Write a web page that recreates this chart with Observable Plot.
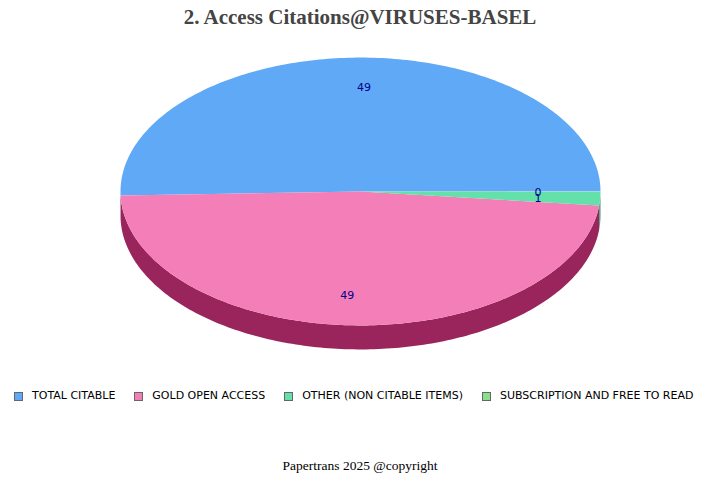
<!DOCTYPE html>
<html><head><meta charset="utf-8">
<script src="https://cdn.jsdelivr.net/npm/d3@7"></script>
<script src="https://cdn.jsdelivr.net/npm/@observablehq/plot@0.6"></script>
<style>
html,body{margin:0;padding:0;background:#fff;width:720px;height:480px;overflow:hidden}
#title{height:36px;text-align:center;font:bold 21px/35px "Liberation Serif",serif;color:#444}
#legend{display:flex;height:16px;margin-top:18px;padding-left:14px;font:11px/16px "DejaVu Sans",sans-serif;color:#000;white-space:nowrap;align-items:center}
#legend .s{width:7px;height:7px;border:1px solid #666;margin-right:9px;flex:none}
#legend .t{margin-right:19px}
#foot{margin-top:54px;text-align:center;font:13.5px/16px "Liberation Serif",serif;color:#000}
svg{display:block}
</style></head><body>
<div id="title">2. Access Citations@VIRUSES-BASEL</div>
<div id="chart"></div>
<div id="legend"></div>
<div id="foot">Papertrans 2025 @copyright</div>
<script>
const categories = ["TOTAL CITABLE","GOLD OPEN ACCESS","OTHER (NON CITABLE ITEMS)","SUBSCRIPTION AND FREE TO READ"];
const labels = [49,49,1,0];
// share of the drawn ellipse, in degrees
const sweeps = [181.7,172.3,5.9,0.1];
const colors = ["#60a9f6","#f47fb8","#64e0aa","#88e088"];
const wallColors = ["#2a5f99","#9a245c","#3f9a72","#4f9a4f"];
const squash = 0.558, depth = 0.1;
const rad = d=>d*Math.PI/180;
let acc=0;
const slices = sweeps.map((s,i)=>{const a0=acc;acc+=s;return {i,a0,a1:acc,mid:a0+s/2};});
const arc=(a0,a1)=>{const n=Math.max(2,Math.ceil((a1-a0)));return d3.range(n+1).map(k=>a0+(a1-a0)*k/n);};
const face=s=>[[0,0],...arc(s.a0,s.a1).map(a=>[Math.cos(rad(a)),Math.sin(rad(a))*squash])];
const wall=s=>{const a0=Math.max(s.a0,180),a1=s.a1;if(a1<=a0)return[];
  const pts=arc(a0,a1);
  return [...pts.map(a=>[Math.cos(rad(a)),Math.sin(rad(a))*squash]),...pts.slice().reverse().map(a=>[Math.cos(rad(a)),Math.sin(rad(a))*squash-depth])];};
const poly=(pts,fill)=>Plot.line(pts,{x:d=>d[0],y:d=>d[1],fill,stroke:"none",curve:"linear-closed"});
const labelPos=[{x:0.015,y:0.435},{x:-0.055,y:-0.435},{x:0.74,y:-0.03},{x:0.74,y:-0.005}];
const textData=labels.map((v,i)=>({v,...labelPos[i]}));
const chart=Plot.plot({
  width:720,height:334,margin:0,
  x:{domain:[-1.5,1.5],range:[0,720],axis:null},
  y:{domain:[-179/240,155/240],range:[334,0],axis:null},
  marks:[
    ...slices.map(s=>poly(wall(s),wallColors[s.i])),
    ...slices.map(s=>poly(face(s),colors[s.i])),
    Plot.text(textData,{x:"x",y:"y",text:d=>String(d.v),fill:"#00008b",fontSize:11,fontFamily:"DejaVu Sans"})
  ]
});
document.getElementById("chart").append(chart);
const lg=document.getElementById("legend");
categories.forEach((c,i)=>{
  const s=document.createElement("span");s.className="s";s.style.background=colors[i];
  const t=document.createElement("span");t.className="t";t.textContent=c;
  lg.append(s,t);
});
</script>
</body></html>
